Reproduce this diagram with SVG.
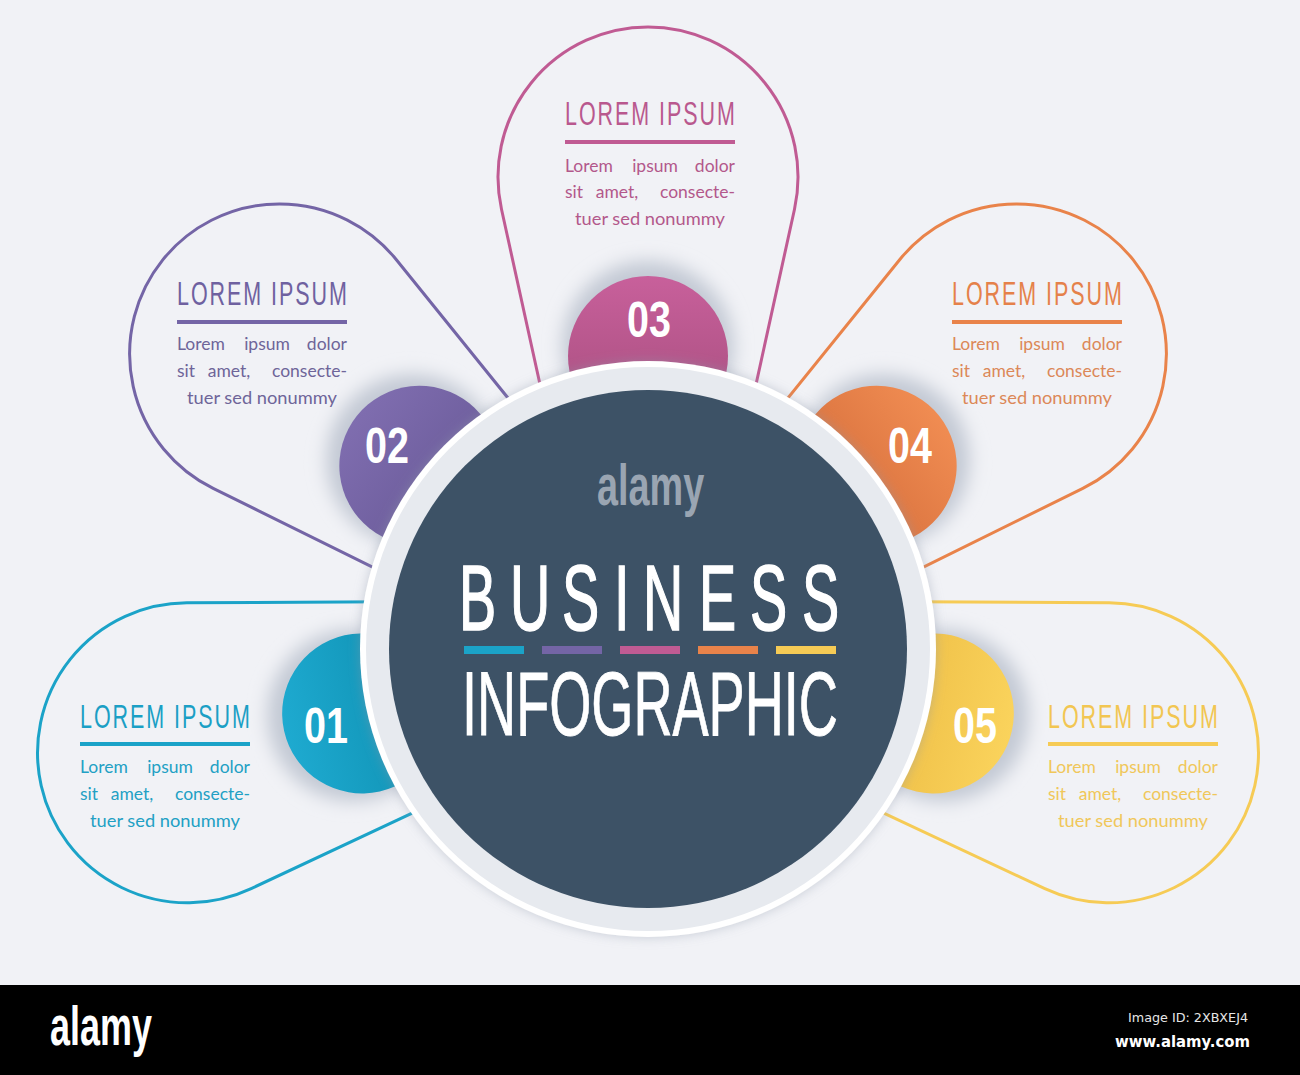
<svg xmlns="http://www.w3.org/2000/svg" width="1300" height="1075" viewBox="0 0 1300 1075">
<defs>
<style>
.petal{fill:none;stroke-width:3;stroke-linecap:round}
.title{font-family:"Liberation Sans",Arial,sans-serif;font-size:33px;letter-spacing:3px}
.body{font-family:Lato,"Open Sans","Liberation Sans",sans-serif;font-size:17.5px}
.num{font-family:"Liberation Sans",Arial,sans-serif;font-weight:bold;font-size:50px;fill:#ffffff}
.big{font-family:"Liberation Sans",Arial,sans-serif;fill:#ffffff}
.mid{text-anchor:middle}
.end{text-anchor:end}
</style>
<filter id="soft" x="-50%" y="-50%" width="200%" height="200%"><feGaussianBlur stdDeviation="9"/></filter>
<filter id="ringsh" x="-20%" y="-20%" width="140%" height="140%"><feDropShadow dx="0" dy="0" stdDeviation="6" flood-color="#8f99ab" flood-opacity="0.45"/></filter>
<linearGradient id="g1" x1="0" y1="0" x2="1" y2="0"><stop offset="0" stop-color="#0c8cad"/><stop offset="1" stop-color="#1eaad0"/></linearGradient>
<linearGradient id="g2" x1="0" y1="0" x2="1" y2="0"><stop offset="0" stop-color="#665795"/><stop offset="1" stop-color="#7f6daf"/></linearGradient>
<linearGradient id="g3" x1="0" y1="0" x2="1" y2="0"><stop offset="0" stop-color="#a34c7b"/><stop offset="1" stop-color="#c8609b"/></linearGradient>
<linearGradient id="g4" x1="0" y1="0" x2="1" y2="0"><stop offset="0" stop-color="#d26a38"/><stop offset="1" stop-color="#f08c52"/></linearGradient>
<linearGradient id="g5" x1="0" y1="0" x2="1" y2="0"><stop offset="0" stop-color="#ebb940"/><stop offset="1" stop-color="#fad35c"/></linearGradient>
<path id="petalShape" d="M200,-93.8 L439.8,-146.5 A150,150 0 1 1 439.8,146.5 L200,93.8"/>
</defs>

<rect x="0" y="0" width="1300" height="985" fill="#f1f2f6"/>

<g id="connectors"></g>

<g id="node-01">
  <g transform="translate(648,649) rotate(167.3)">
    <use href="#petalShape" class="petal" stroke="#1ba3c8"/>
    <circle cx="302" cy="0" r="86" fill="#c3c9d4" filter="url(#soft)"/>
    <circle cx="293" cy="0" r="80" fill="url(#g1)"/>
  </g>
  <text class="num" transform="translate(304,743) scale(0.79,1)">01</text>
  <text class="title" transform="translate(80,728) scale(0.651,1)" fill="#1b9fc5">LOREM IPSUM</text>
  <rect x="80" y="742" width="170" height="4" fill="#1ba3c8"/>
  <g class="body" fill="#22a0c4">
    <text x="80" y="773">Lorem</text><text class="mid" x="170" y="773">ipsum</text><text class="end" x="250" y="773">dolor</text>
    <text x="80" y="800">sit</text><text class="mid" x="132" y="800">amet,</text><text class="end" x="250" y="800">consecte-</text>
    <text x="90" y="827" textLength="150" lengthAdjust="spacingAndGlyphs">tuer sed nonummy</text>
  </g>
</g>

<g id="node-02">
  <g transform="translate(648,649) rotate(218.7)">
    <use href="#petalShape" class="petal" stroke="#7465a6"/>
    <circle cx="302" cy="0" r="86" fill="#c3c9d4" filter="url(#soft)"/>
    <circle cx="293" cy="0" r="80" fill="url(#g2)"/>
  </g>
  <text class="num" transform="translate(365,463) scale(0.79,1)">02</text>
  <text class="title" transform="translate(177,305) scale(0.651,1)" fill="#6f61a0">LOREM IPSUM</text>
  <rect x="177" y="320" width="170" height="4" fill="#7465a6"/>
  <g class="body" fill="#6e6599">
    <text x="177" y="350">Lorem</text><text class="mid" x="267" y="350">ipsum</text><text class="end" x="347" y="350">dolor</text>
    <text x="177" y="377">sit</text><text class="mid" x="229" y="377">amet,</text><text class="end" x="347" y="377">consecte-</text>
    <text x="187" y="404" textLength="150" lengthAdjust="spacingAndGlyphs">tuer sed nonummy</text>
  </g>
</g>

<g id="node-03">
  <g transform="translate(648,649) rotate(270)">
    <use href="#petalShape" class="petal" stroke="#c05b93"/>
    <circle cx="302" cy="0" r="86" fill="#c3c9d4" filter="url(#soft)"/>
    <circle cx="293" cy="0" r="80" fill="url(#g3)"/>
  </g>
  <text class="num" transform="translate(627,337) scale(0.79,1)">03</text>
  <text class="title" transform="translate(565,125) scale(0.651,1)" fill="#b9588e">LOREM IPSUM</text>
  <rect x="565" y="140" width="170" height="4" fill="#c05b93"/>
  <g class="body" fill="#b3588b">
    <text x="565" y="172">Lorem</text><text class="mid" x="655" y="172">ipsum</text><text class="end" x="735" y="172">dolor</text>
    <text x="565" y="198">sit</text><text class="mid" x="617" y="198">amet,</text><text class="end" x="735" y="198">consecte-</text>
    <text x="575" y="225" textLength="150" lengthAdjust="spacingAndGlyphs">tuer sed nonummy</text>
  </g>
</g>

<g id="node-04">
  <g transform="translate(648,649) rotate(321.3)">
    <use href="#petalShape" class="petal" stroke="#e9834a"/>
    <circle cx="302" cy="0" r="86" fill="#c3c9d4" filter="url(#soft)"/>
    <circle cx="293" cy="0" r="80" fill="url(#g4)"/>
  </g>
  <text class="num" transform="translate(888,463) scale(0.79,1)">04</text>
  <text class="title" transform="translate(952,305) scale(0.651,1)" fill="#e5814a">LOREM IPSUM</text>
  <rect x="952" y="320" width="170" height="4" fill="#e9834a"/>
  <g class="body" fill="#dc8858">
    <text x="952" y="350">Lorem</text><text class="mid" x="1042" y="350">ipsum</text><text class="end" x="1122" y="350">dolor</text>
    <text x="952" y="377">sit</text><text class="mid" x="1004" y="377">amet,</text><text class="end" x="1122" y="377">consecte-</text>
    <text x="962" y="404" textLength="150" lengthAdjust="spacingAndGlyphs">tuer sed nonummy</text>
  </g>
</g>

<g id="node-05">
  <g transform="translate(648,649) rotate(12.7)">
    <use href="#petalShape" class="petal" stroke="#f6cb55"/>
    <circle cx="302" cy="0" r="86" fill="#c3c9d4" filter="url(#soft)"/>
    <circle cx="293" cy="0" r="80" fill="url(#g5)"/>
  </g>
  <text class="num" transform="translate(953,743) scale(0.79,1)">05</text>
  <text class="title" transform="translate(1048,728) scale(0.651,1)" fill="#f2c652">LOREM IPSUM</text>
  <rect x="1048" y="742" width="170" height="4" fill="#f6cb55"/>
  <g class="body" fill="#f0c75a">
    <text x="1048" y="773">Lorem</text><text class="mid" x="1138" y="773">ipsum</text><text class="end" x="1218" y="773">dolor</text>
    <text x="1048" y="800">sit</text><text class="mid" x="1100" y="800">amet,</text><text class="end" x="1218" y="800">consecte-</text>
    <text x="1058" y="827" textLength="150" lengthAdjust="spacingAndGlyphs">tuer sed nonummy</text>
  </g>
</g>

<g id="center">
  <circle cx="648" cy="649" r="288" fill="#ffffff" filter="url(#ringsh)"/>
  <circle cx="648" cy="649" r="282" fill="#e7eaef"/>
  <circle cx="648" cy="649" r="259" fill="#3d5266"/>
  <text transform="translate(597,505) scale(0.652,1)" font-family="Liberation Sans,Arial,sans-serif" font-weight="bold" font-size="58" fill="#9aa5b2">alamy</text>
  <text class="big" transform="translate(0,630) scale(0.6,1)" y="0" font-size="93" stroke="#ffffff" stroke-width="1.5" x="765 850 936.7 1023.3 1071.7 1165 1250 1336.7">BUSINESS</text>
  <rect x="464" y="646" width="60" height="8" fill="#1ba3c8"/>
  <rect x="542" y="646" width="60" height="8" fill="#7465a6"/>
  <rect x="620" y="646" width="60" height="8" fill="#c05b93"/>
  <rect x="698" y="646" width="60" height="8" fill="#e9834a"/>
  <rect x="776" y="646" width="60" height="8" fill="#f6cb55"/>
  <text class="big" transform="translate(462,735) scale(0.6016,1)" font-size="90" stroke="#ffffff" stroke-width="0.8">INFOGRAPHIC</text>
</g>

<g id="footer">
  <rect x="0" y="985" width="1300" height="90" fill="#000000"/>
  <text transform="translate(50,1045) scale(0.642,1)" font-family="Liberation Sans,Arial,sans-serif" font-weight="bold" font-size="56" fill="#ffffff">alamy</text>
  <text x="1128" y="1022" font-family="DejaVu Sans,sans-serif" font-size="13" fill="#e6e6e6" textLength="120" lengthAdjust="spacingAndGlyphs">Image ID: 2XBXEJ4</text>
  <text x="1115" y="1047" font-family="DejaVu Sans,sans-serif" font-weight="bold" font-size="16" fill="#ffffff" textLength="135" lengthAdjust="spacingAndGlyphs">www.alamy.com</text>
</g>
</svg>
